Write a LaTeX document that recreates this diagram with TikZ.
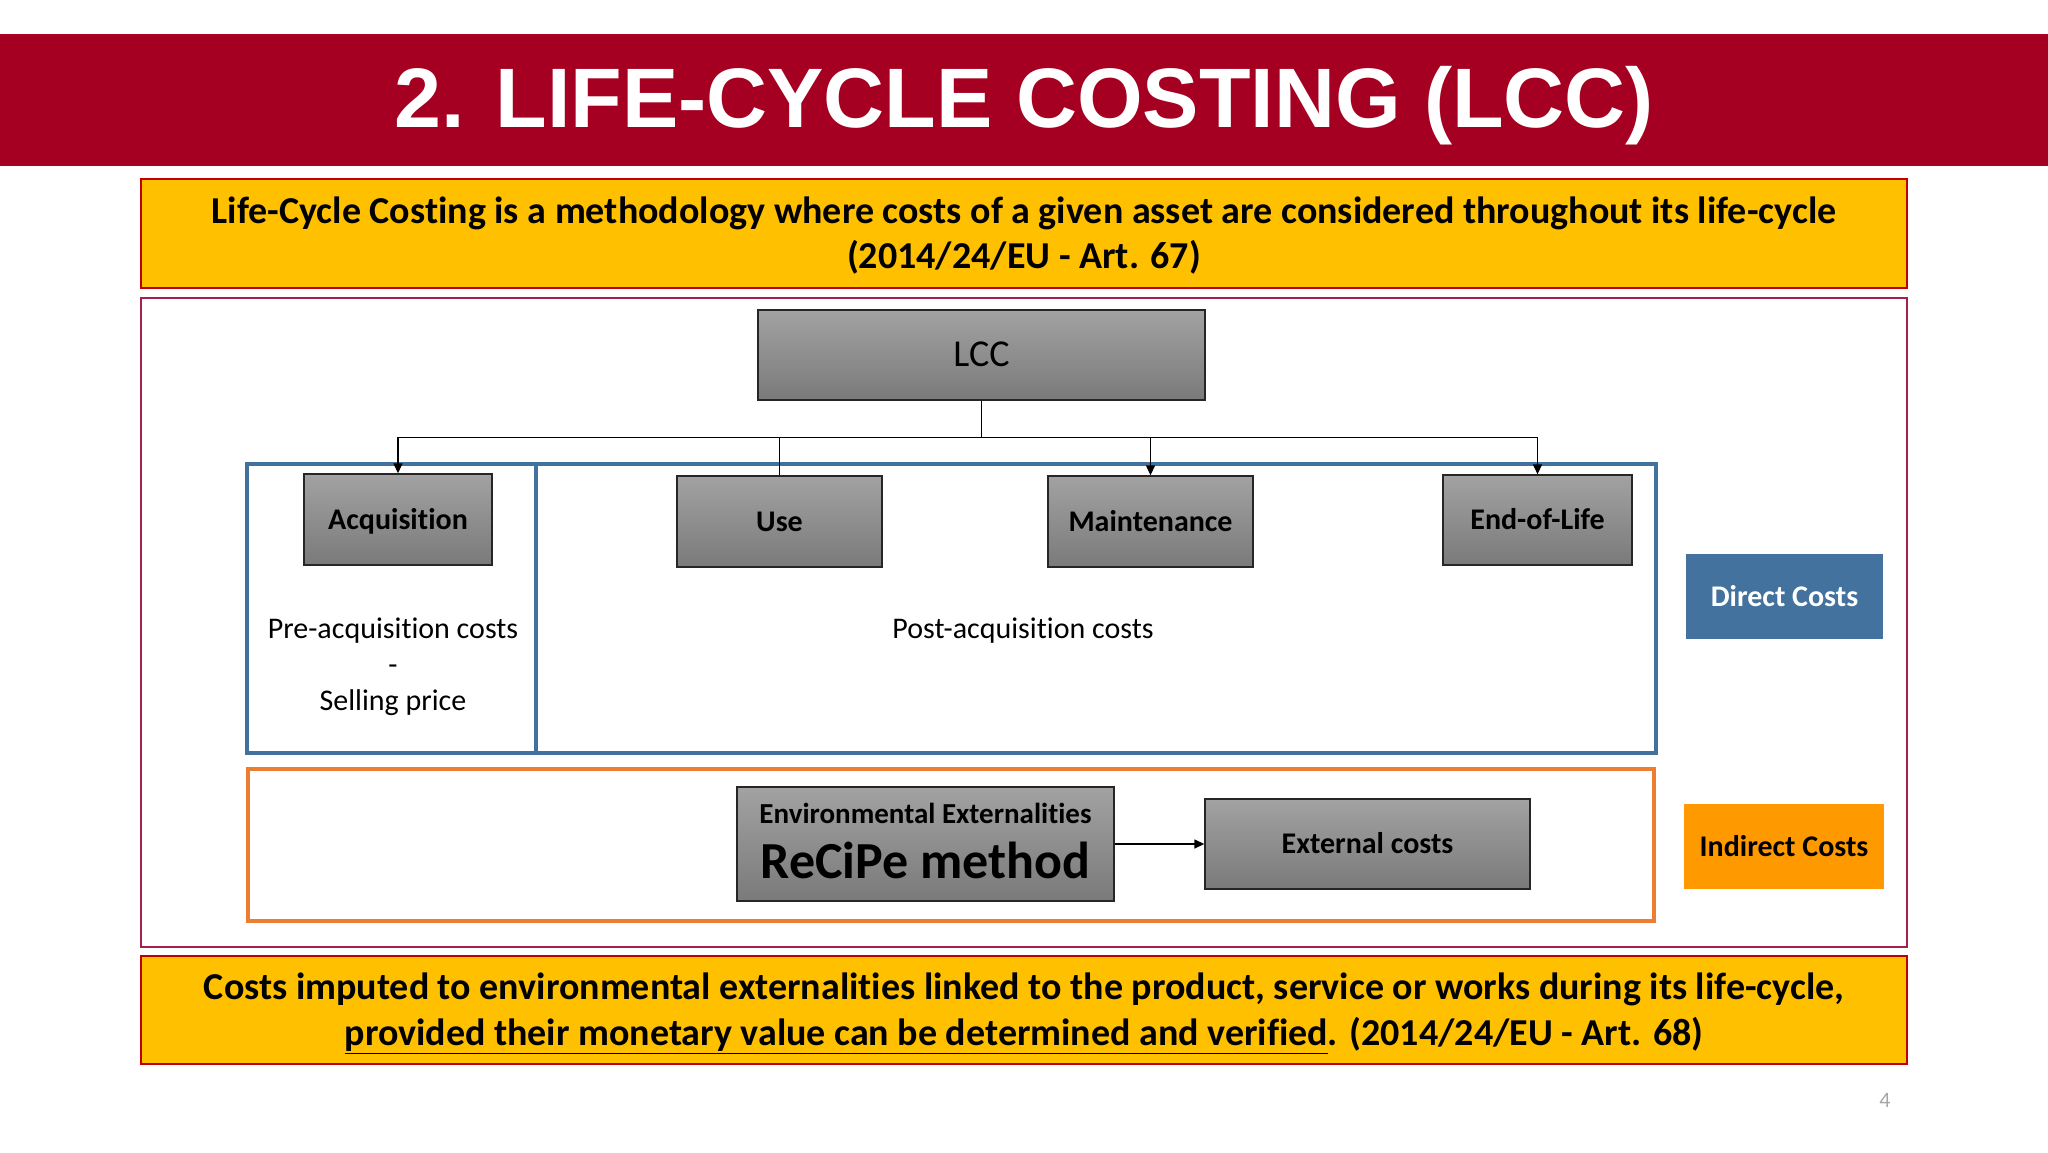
\documentclass[tikz,border=0pt]{standalone}
\usepackage{fontspec}
\setmainfont{Carlito}[Ligatures=NoCommon]
\newfontfamily\titlefont{Liberation Sans}
\usetikzlibrary{arrows.meta}
\definecolor{banner}{HTML}{A50021}
\definecolor{yel}{HTML}{FFC000}
\definecolor{yelborder}{HTML}{C00000}
\definecolor{frame}{HTML}{A3204F}
\definecolor{bluebox}{HTML}{41719C}
\definecolor{directc}{HTML}{44729F}
\definecolor{orangebox}{HTML}{ED7D31}
\definecolor{indirectc}{HTML}{FF9900}
\definecolor{grtop}{HTML}{A2A2A2}
\definecolor{grbot}{HTML}{7A7A7A}
\definecolor{pagenum}{HTML}{A6A6A6}
\tikzset{
  graybox/.style={draw=black!85, line width=0.7pt, top color=grtop, bottom color=grbot, inner sep=0pt, align=center},
  boxlabel/.style={font=\bfseries\fontsize{15pt}{18pt}\selectfont, text height=12.5pt, text depth=3pt},
  conn/.style={line width=0.7pt, black},
  arr/.style={conn, -{Triangle[length=5pt,width=4.5pt]}},
  yelbox/.style={fill=yel, draw=yelborder, line width=1pt},
  yeltext/.style={font=\bfseries\fontsize{19pt}{23pt}\selectfont, anchor=base, inner sep=0pt},
  plaintext/.style={font=\fontsize{15pt}{18pt}\selectfont, inner sep=0pt},
}
\begin{document}
\begin{tikzpicture}[x=0.5pt,y=-0.5pt]
\useasboundingbox (0,0) rectangle (2048,1152);
\fill[white] (0,0) rectangle (2048,1152);
% banner
\fill[banner] (0,34) rectangle (2048,166);
\node[anchor=base, inner sep=0pt, text=white, font=\titlefont\bfseries\fontsize{42.2pt}{50pt}\selectfont] (title) at (1024,127) {2. LIFE-CYCLE COSTING (LCC)};
% top yellow box
\draw[yelbox] (141,179) rectangle (1907,288);
\node[yeltext] (def1) at (1024,223) {Life-Cycle Costing is a methodology where costs of a given asset are considered throughout its life-cycle};
\node[yeltext] (def2) at (1024,268) {(2014/24/EU - Art. 67)};
% main frame
\draw[frame, line width=0.8pt] (141,298) rectangle (1907,947);
% blue containers
\draw[bluebox, line width=2.3pt] (247,464) rectangle (1656,753);
\draw[bluebox, line width=2.3pt] (536,464) -- (536,753);
% orange container
\draw[orangebox, line width=2.4pt] (248,769) rectangle (1654,921);
% nodes
\node[graybox, minimum width=223.5pt, minimum height=45pt, font=\fontsize{19pt}{23pt}\selectfont, text height=14.5pt, text depth=3pt] (lcc) at (981.5,355) {LCC};
\node[graybox, boxlabel, minimum width=94pt, minimum height=45.5pt] (acq) at (398,519.5) {Acquisition};
\node[graybox, boxlabel, minimum width=102.5pt, minimum height=45.5pt] (use) at (779.5,521.5) {Use};
\node[graybox, boxlabel, minimum width=102.5pt, minimum height=45.5pt] (maint) at (1150.5,521.5) {Maintenance};
\node[graybox, boxlabel, minimum width=94.5pt, minimum height=45pt] (eol) at (1537.5,520) {End-of-Life};
% connectors
\draw[arr] (lcc.south) -- ++(0,37) -| (acq.north);
\draw[conn] (lcc.south) -- ++(0,37) -| (use.north);
\draw[arr] (lcc.south) -- ++(0,37) -| (maint.north);
\draw[arr] (lcc.south) -- ++(0,37) -| (eol.north);
% texts in blue box
\node[plaintext, anchor=base] (pre1) at (393,638) {Pre-acquisition costs};
\node[plaintext, anchor=base] (pre2) at (393,674) {-};
\node[plaintext, anchor=base] (pre3) at (393,710) {Selling price};
\node[plaintext, anchor=base] (post) at (1023,638) {Post-acquisition costs};
% direct / indirect
\node[fill=directc, text=white, boxlabel, minimum width=98.5pt, minimum height=42.5pt, inner sep=0pt] (direct) at (1784.5,596.5) {Direct Costs};
\node[fill=indirectc, text=black, boxlabel, minimum width=100pt, minimum height=42.5pt, inner sep=0pt] (indirect) at (1784,846.5) {Indirect Costs};
% externalities
\node[graybox, minimum width=188.5pt, minimum height=57pt] (env) at (925.5,844) {};
\node[anchor=base, inner sep=0pt, font=\bfseries\fontsize{14.5pt}{17pt}\selectfont] (envt) at (925.5,823) {Environmental Externalities};
\node[anchor=base, inner sep=0pt, font=\bfseries\fontsize{26pt}{30pt}\selectfont] (recipe) at (925.5,878) {ReCiPe method};
\node[graybox, boxlabel, minimum width=162.5pt, minimum height=45pt] (ext) at (1367.5,844) {External costs};
\draw[arr] (env.east) -- (ext.west);
% bottom yellow box
\draw[yelbox] (141,956) rectangle (1907,1064);
\node[yeltext] (art1) at (1024,999) {Costs imputed to environmental externalities linked to the product, service or works during its life-cycle,};
\node[yeltext] (art2) at (1024,1045) {\underline{provided their monetary value can be determined and verified}. (2014/24/EU - Art. 68)};
% page number
\node[text=pagenum, font=\fontsize{11pt}{13pt}\selectfont, inner sep=0pt] (pg) at (1885,1100) {4};
\end{tikzpicture}
\end{document}
